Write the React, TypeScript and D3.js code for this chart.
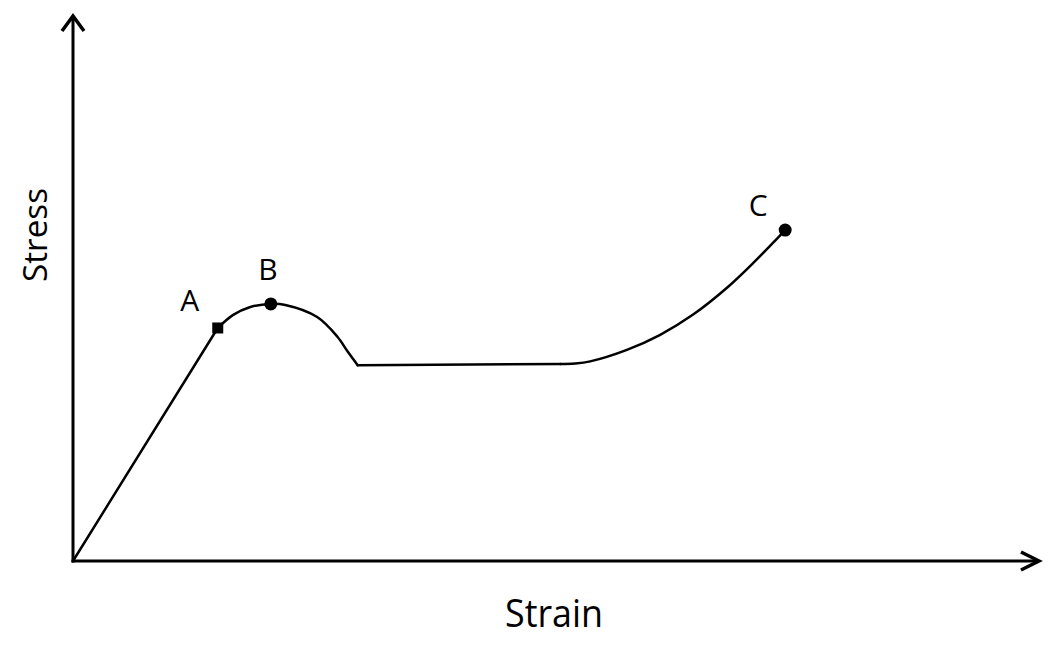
import React from "react";
import * as d3 from "d3";

// Strain (arbitrary units) and stress (arbitrary units) along the curve, split into segments
const elasticStrain = [0, 15.0];
const elasticStress = [0, 42.6];

const yieldStrain = [15.0, 16.6, 18.3, 20.5, 22.0, 25.3, 27.4, 28.5, 29.5];
const yieldStress = [42.6, 45.0, 46.4, 47.0, 46.8, 44.6, 41.0, 38.2, 35.8];

const plateauStrain = [29.5, 50.5];
const plateauStress = [35.8, 36.0];

const hardenStrain = [50.5, 52.0, 53.6, 57.4, 60.8, 64.3, 67.8, 70.5, 72.5, 73.8];
const hardenStress = [36.0, 36.1, 36.5, 38.6, 41.3, 45.1, 50.0, 54.5, 58.1, 60.5];

const pointLabels = ["A", "B", "C"];
const pointStrain = [15.0, 20.5, 73.8];
const pointStress = [42.6, 47.0, 60.5];

const xLabel = "Strain";
const yLabel = "Stress";

const W = 1057;
const H = 655;

export default function App() {
  const x = d3.scaleLinear().domain([0, 100]).range([73, 1038]);
  const y = d3.scaleLinear().domain([0, 100]).range([561, 14]);

  const toPts = (xs: number[], ys: number[]) => xs.map((v, i) => [v, ys[i]] as [number, number]);
  const lin = d3.line<[number, number]>().x((d) => x(d[0])).y((d) => y(d[1]));
  const smooth = d3
    .line<[number, number]>()
    .x((d) => x(d[0]))
    .y((d) => y(d[1]))
    .curve(d3.curveCatmullRom.alpha(0.5));

  const x0 = x(0);
  const y0 = y(0);
  const xEnd = x(100);
  const yEnd = y(100);

  const font = "'Open Sans', 'DejaVu Sans', sans-serif";

  return (
    <svg width={W} height={H} style={{ position: "absolute", left: 0, top: 0, background: "#fff" }}>
      {/* axes */}
      <line x1={x0} y1={y0 + 1.5} x2={x0} y2={yEnd + 2} stroke="#000" strokeWidth={3} />
      <line x1={x0 - 1.5} y1={y0} x2={xEnd} y2={y0} stroke="#000" strokeWidth={3} />
      <polyline
        points={`${x0 - 11},${yEnd + 17} ${x0},${yEnd + 2} ${x0 + 11},${yEnd + 17}`}
        fill="none"
        stroke="#000"
        strokeWidth={3.5}
        strokeLinejoin="miter"
      />
      <polyline
        points={`${xEnd - 17},${y0 - 9} ${xEnd + 1},${y0} ${xEnd - 17},${y0 + 9}`}
        fill="none"
        stroke="#000"
        strokeWidth={3.5}
        strokeLinejoin="miter"
      />

      {/* curve */}
      <g fill="none" stroke="#000" strokeWidth={2.5} strokeLinejoin="round" strokeLinecap="round">
        <path d={lin(toPts(elasticStrain, elasticStress)) || ""} />
        <path d={smooth(toPts(yieldStrain, yieldStress)) || ""} />
        <path d={lin(toPts(plateauStrain, plateauStress)) || ""} />
        <path d={smooth(toPts(hardenStrain, hardenStress)) || ""} />
      </g>

      {/* markers */}
      <rect x={x(pointStrain[0]) - 5.5} y={y(pointStress[0]) - 5.5} width={11} height={11} fill="#000" />
      <circle cx={x(pointStrain[1])} cy={y(pointStress[1])} r={6.5} fill="#000" />
      <circle cx={x(pointStrain[2])} cy={y(pointStress[2])} r={6.5} fill="#000" />

      {/* point labels */}
      <g fontFamily={font} fontSize={30} fill="#000" textAnchor="middle">
        <text x={x(pointStrain[0]) - 28} y={y(pointStress[0]) - 17}>{pointLabels[0]}</text>
        <text x={x(pointStrain[1]) - 3} y={y(pointStress[1]) - 24}>{pointLabels[1]}</text>
        <text x={x(pointStrain[2]) - 27} y={y(pointStress[2]) - 14}>{pointLabels[2]}</text>
      </g>

      {/* axis titles */}
      <text
        x={505}
        y={627}
        fontFamily={font}
        fontSize={38}
        fill="#000"
        textLength={98}
        lengthAdjust="spacingAndGlyphs"
      >
        {xLabel}
      </text>
      <text
        transform="translate(47,282) rotate(-90)"
        fontFamily={font}
        fontSize={33}
        fill="#000"
        textLength={94}
        lengthAdjust="spacingAndGlyphs"
      >
        {yLabel}
      </text>
    </svg>
  );
}
